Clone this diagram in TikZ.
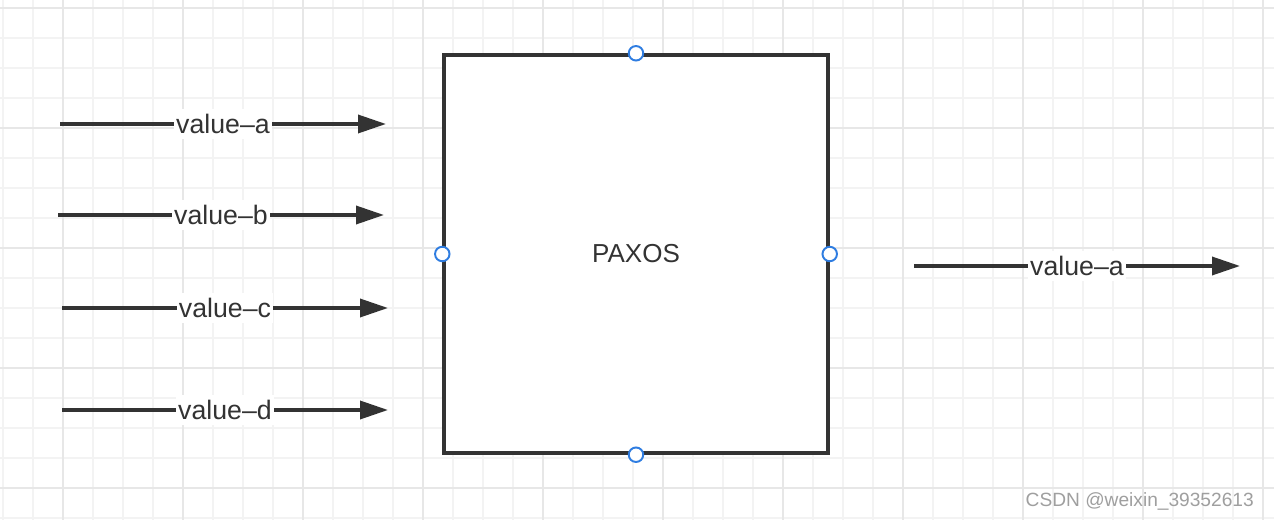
\documentclass[tikz,border=0pt]{standalone}
\usepackage{fontspec}
\setmainfont{Liberation Sans}
\usepackage{xcolor}
\usetikzlibrary{arrows.meta,positioning}

\definecolor{inkdark}{HTML}{333333}
\definecolor{gridlight}{HTML}{F3F3F3}
\definecolor{gridmajor}{HTML}{E7E7E7}
\definecolor{portblue}{HTML}{2F7DE1}

\tikzset{
    gridminor/.style={gridlight,line width=1.2pt},
    gridbold/.style={gridmajor,line width=1.3pt},
    procbox/.style={draw=inkdark,line width=2pt,fill=white,minimum width=7.68cm,minimum height=7.96cm,font=\fontsize{14.8}{17}\selectfont,text=inkdark},
    port/.style={circle,draw=portblue,fill=white,line width=1.1pt,minimum size=0.29cm,inner sep=0pt},
    flow/.style={inkdark,line width=2pt,-{Triangle[length=0.56cm,width=0.36cm]}},
    vlabel/.style={fill=white,text=inkdark,inner xsep=1pt,inner ysep=3pt,font=\fontsize{15.2}{17}\selectfont},
    wmark/.style={text=gray!75,font=\fontsize{10.9}{13}\selectfont}
}

\begin{document}
\begin{tikzpicture}[x=0.02cm,y=-0.02cm]
    \useasboundingbox (0,0) rectangle (1274,520);
    \fill[white] (0,0) rectangle (1274,520);

    % Background grid (minor every 30px, bold every 120px)
    \foreach \x in {3,33,...,1273} {
        \draw[gridminor] (\x,0) -- (\x,520);
    }
    \foreach \y in {8,38,...,519} {
        \draw[gridminor] (0,\y) -- (1274,\y);
    }
    \foreach \x in {63,183,...,1263} {
        \draw[gridbold] (\x,0) -- (\x,520);
    }
    \foreach \y in {8,128,...,488} {
        \draw[gridbold] (0,\y) -- (1274,\y);
    }

    % Consensus box
    \node[procbox] (paxos) at (636,254) {PAXOS};
    \node[port] (pn) at (paxos.north) {};
    \node[port] (ps) at (paxos.south) {};
    \node[port] (pw) at (paxos.west) {};
    \node[port] (pe) at (paxos.east) {};

    % Proposed values (left)
    \coordinate (ina) at (60,124);  \coordinate (outa) at (386,124);
    \coordinate (inb) at (58,215);  \coordinate (outb) at (384,215);
    \coordinate (inc) at (62,308);  \coordinate (outc) at (388,308);
    \coordinate (ind) at (62,410);  \coordinate (outd) at (388,410);
    \draw[flow] (ina) -- node[vlabel] (la) {value–a} (outa);
    \draw[flow] (inb) -- node[vlabel] (lb) {value–b} (outb);
    \draw[flow] (inc) -- node[vlabel] (lc) {value–c} (outc);
    \draw[flow] (ind) -- node[vlabel] (ld) {value–d} (outd);

    % Chosen value (right)
    \coordinate (inr) at (914,266);  \coordinate (outr) at (1240,266);
    \draw[flow] (inr) -- node[vlabel] (lr) {value–a} (outr);

    % Watermark
    \node[wmark,anchor=east] (csdn) at (1260,501) {CSDN @weixin\_39352613};
\end{tikzpicture}
\end{document}
